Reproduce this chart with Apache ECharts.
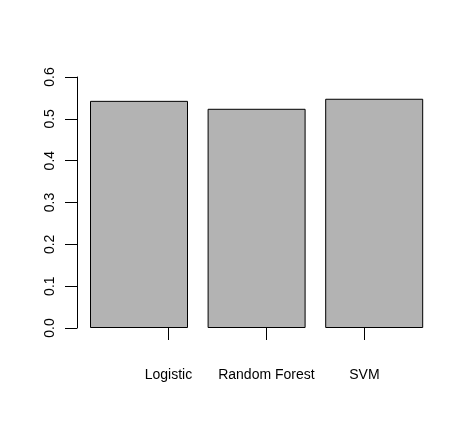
<!DOCTYPE html>
<html><head><meta charset="utf-8">
<script src="https://cdn.jsdelivr.net/npm/echarts@6/dist/echarts.min.js"></script>
<style>html,body{margin:0;background:#fff}#c{width:474px;height:424px}</style>
</head><body><div id="c"></div>
<script>
const categories = ["Logistic", "Random Forest", "SVM"];
const barCenters = [0.7, 1.9, 3.1];
const tickPositions = [1, 2, 3];
const values = [0.543, 0.524, 0.548];
const yTicks = [0, 0.1, 0.2, 0.3, 0.4, 0.5, 0.6];

const chart = echarts.init(document.getElementById("c"));
chart.setOption({
  animation: false,
  grid: { left: 70.4, right: 50.8, top: 77, bottom: 96 },
  xAxis: {
    type: "value", min: 0, max: 3.6,
    axisLine: { show: false },
    splitLine: { show: false },
    axisTick: { show: true, length: 12, customValues: tickPositions, lineStyle: { color: "#000" } },
    axisLabel: {
      customValues: tickPositions, margin: 40, color: "#000", fontSize: 14,
      fontFamily: "Liberation Sans",
      formatter: v => categories[tickPositions.indexOf(Math.round(v))] || ""
    }
  },
  yAxis: {
    type: "value", min: 0, max: 0.6, interval: 0.1, offset: -6.6,
    axisLine: { show: true, lineStyle: { color: "#000" } },
    axisTick: { show: true, length: 12, lineStyle: { color: "#000" } },
    splitLine: { show: false },
    axisLabel: {
      rotate: 90, margin: 20, color: "#000", fontSize: 14, fontFamily: "Liberation Sans",
      formatter: v => v.toFixed(1)
    }
  },
  series: [{
    type: "bar", barWidth: 98,
    data: values.map((v, i) => [barCenters[i], v]),
    itemStyle: { color: "#b3b3b3", borderColor: "#000", borderWidth: 1 }
  }]
});
</script></body></html>
